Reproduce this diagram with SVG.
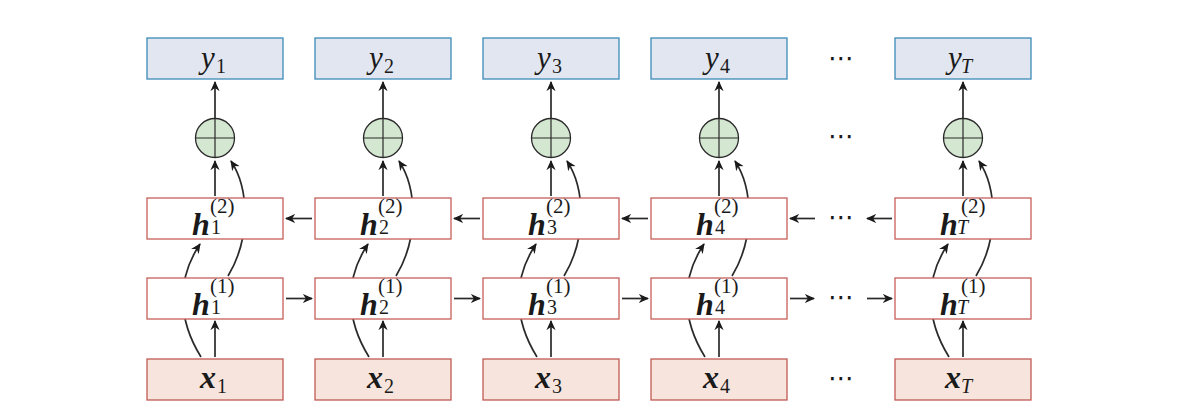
<svg xmlns="http://www.w3.org/2000/svg" width="1204" height="420" viewBox="0 0 1204 420">
<style>
.yb{fill:#e1e6f0;stroke:#3c8ab5;stroke-width:1.3}
.hb{fill:#ffffff;stroke:#c65f5a;stroke-width:1.3}
.xb{fill:#f7e5dd;stroke:#c05a54;stroke-width:1.3}
.sum{fill:#d4e7d0;stroke:#2a2a2a;stroke-width:1.3}
.cr{stroke:#2a2a2a;stroke-width:1.2}
.c{fill:none;stroke:#2a2a2a;stroke-width:1.7;marker-end:url(#ah)}
.m{font-family:"Liberation Serif","DejaVu Serif",serif;fill:#1a1a1a}
.big{font-size:31px;font-style:italic}
.bb{font-size:32px;font-style:italic;font-weight:bold}
.sub{font-size:20px}
.subi{font-size:20px;font-style:italic}
.sup{font-size:21px}
.dots{font-family:"DejaVu Sans",sans-serif;font-size:26px;fill:#1a1a1a}
</style>
<defs>
<marker id="ah" viewBox="0 0 10 10" refX="9" refY="5" markerWidth="6" markerHeight="6" orient="auto" markerUnits="strokeWidth">
<path d="M0,0.5 L10,5 L0,9.5 L3,5 z" fill="#1a1a1a"/>
</marker>
</defs>

<g id="connectors">
<path class="c" d="M215,118 L215,82"/>
<path class="c" d="M215,196 L215,161"/>
<path class="c" d="M215,357 L215,321"/>
<path class="c" d="M228,276 C250,240 250,190 231,161"/>
<path class="c" d="M201,357 C178,320 176,280 200,244"/>
<path class="c" d="M383,118 L383,82"/>
<path class="c" d="M383,196 L383,161"/>
<path class="c" d="M383,357 L383,321"/>
<path class="c" d="M396,276 C418,240 418,190 399,161"/>
<path class="c" d="M369,357 C346,320 344,280 368,244"/>
<path class="c" d="M551,118 L551,82"/>
<path class="c" d="M551,196 L551,161"/>
<path class="c" d="M551,357 L551,321"/>
<path class="c" d="M564,276 C586,240 586,190 567,161"/>
<path class="c" d="M537,357 C514,320 512,280 536,244"/>
<path class="c" d="M719,118 L719,82"/>
<path class="c" d="M719,196 L719,161"/>
<path class="c" d="M719,357 L719,321"/>
<path class="c" d="M732,276 C754,240 754,190 735,161"/>
<path class="c" d="M705,357 C682,320 680,280 704,244"/>
<path class="c" d="M963,118 L963,82"/>
<path class="c" d="M963,196 L963,161"/>
<path class="c" d="M963,357 L963,321"/>
<path class="c" d="M976,276 C998,240 998,190 979,161"/>
<path class="c" d="M949,357 C926,320 924,280 948,244"/>
<path class="c" d="M286,298.5 L312,298.5"/>
<path class="c" d="M454,298.5 L480,298.5"/>
<path class="c" d="M622,298.5 L648,298.5"/>
<path class="c" d="M790,298.5 L814,298.5"/>
<path class="c" d="M867,298.5 L892,298.5"/>
<path class="c" d="M312,218.5 L286,218.5"/>
<path class="c" d="M480,218.5 L454,218.5"/>
<path class="c" d="M648,218.5 L622,218.5"/>
<path class="c" d="M815,218.5 L790,218.5"/>
<path class="c" d="M892,218.5 L867,218.5"/>
</g>

<g id="y1"><rect class="yb" x="147" y="38" width="136" height="41"/><text class="m" y="68"><tspan class="big" x="201">y</tspan><tspan class="sub" x="216" y="73">1</tspan></text></g>
<g id="s1"><circle class="sum" cx="215" cy="138" r="19.5"/><path class="cr" d="M195.5,138 H234.5 M215,118.5 V157.5"/></g>
<g id="h2_1"><rect class="hb" x="147" y="198" width="136" height="41"/><text class="m"><tspan class="bb" x="192" y="235">h</tspan><tspan class="sub" x="211" y="234">1</tspan><tspan class="sup" x="210" y="213">(2)</tspan></text></g>
<g id="h1_1"><rect class="hb" x="147" y="278" width="136" height="41"/><text class="m"><tspan class="bb" x="192" y="315">h</tspan><tspan class="sub" x="211" y="314">1</tspan><tspan class="sup" x="210" y="293">(1)</tspan></text></g>
<g id="x1"><rect class="xb" x="147" y="359" width="136" height="41"/><text class="m"><tspan class="bb" x="200" y="388">x</tspan><tspan class="sub" x="217" y="393">1</tspan></text></g>

<g id="y2"><rect class="yb" x="315" y="38" width="136" height="41"/><text class="m" y="68"><tspan class="big" x="369">y</tspan><tspan class="sub" x="384" y="73">2</tspan></text></g>
<g id="s2"><circle class="sum" cx="383" cy="138" r="19.5"/><path class="cr" d="M363.5,138 H402.5 M383,118.5 V157.5"/></g>
<g id="h2_2"><rect class="hb" x="315" y="198" width="136" height="41"/><text class="m"><tspan class="bb" x="360" y="235">h</tspan><tspan class="sub" x="379" y="234">2</tspan><tspan class="sup" x="378" y="213">(2)</tspan></text></g>
<g id="h1_2"><rect class="hb" x="315" y="278" width="136" height="41"/><text class="m"><tspan class="bb" x="360" y="315">h</tspan><tspan class="sub" x="379" y="314">2</tspan><tspan class="sup" x="378" y="293">(1)</tspan></text></g>
<g id="x2"><rect class="xb" x="315" y="359" width="136" height="41"/><text class="m"><tspan class="bb" x="367" y="388">x</tspan><tspan class="sub" x="384" y="393">2</tspan></text></g>

<g id="y3"><rect class="yb" x="483" y="38" width="136" height="41"/><text class="m" y="68"><tspan class="big" x="537">y</tspan><tspan class="sub" x="552" y="73">3</tspan></text></g>
<g id="s3"><circle class="sum" cx="551" cy="138" r="19.5"/><path class="cr" d="M531.5,138 H570.5 M551,118.5 V157.5"/></g>
<g id="h2_3"><rect class="hb" x="483" y="198" width="136" height="41"/><text class="m"><tspan class="bb" x="528" y="235">h</tspan><tspan class="sub" x="547" y="234">3</tspan><tspan class="sup" x="546" y="213">(2)</tspan></text></g>
<g id="h1_3"><rect class="hb" x="483" y="278" width="136" height="41"/><text class="m"><tspan class="bb" x="528" y="315">h</tspan><tspan class="sub" x="547" y="314">3</tspan><tspan class="sup" x="546" y="293">(1)</tspan></text></g>
<g id="x3"><rect class="xb" x="483" y="359" width="136" height="41"/><text class="m"><tspan class="bb" x="535" y="388">x</tspan><tspan class="sub" x="552" y="393">3</tspan></text></g>

<g id="y4"><rect class="yb" x="651" y="38" width="136" height="41"/><text class="m" y="68"><tspan class="big" x="705">y</tspan><tspan class="sub" x="720" y="73">4</tspan></text></g>
<g id="s4"><circle class="sum" cx="719" cy="138" r="19.5"/><path class="cr" d="M699.5,138 H738.5 M719,118.5 V157.5"/></g>
<g id="h2_4"><rect class="hb" x="651" y="198" width="136" height="41"/><text class="m"><tspan class="bb" x="696" y="235">h</tspan><tspan class="sub" x="715" y="234">4</tspan><tspan class="sup" x="714" y="213">(2)</tspan></text></g>
<g id="h1_4"><rect class="hb" x="651" y="278" width="136" height="41"/><text class="m"><tspan class="bb" x="696" y="315">h</tspan><tspan class="sub" x="715" y="314">4</tspan><tspan class="sup" x="714" y="293">(1)</tspan></text></g>
<g id="x4"><rect class="xb" x="651" y="359" width="136" height="41"/><text class="m"><tspan class="bb" x="703" y="388">x</tspan><tspan class="sub" x="720" y="393">4</tspan></text></g>

<g id="ellipses">
<text class="dots" x="841" y="67" text-anchor="middle">⋯</text>
<text class="dots" x="841" y="145" text-anchor="middle">⋯</text>
<text class="dots" x="841" y="225.5" text-anchor="middle">⋯</text>
<text class="dots" x="841" y="305.5" text-anchor="middle">⋯</text>
<text class="dots" x="841" y="387" text-anchor="middle">⋯</text>
</g>

<g id="yT"><rect class="yb" x="895" y="38" width="136" height="41"/><text class="m" y="68"><tspan class="big" x="948">y</tspan><tspan class="subi" x="961" y="73">T</tspan></text></g>
<g id="sT"><circle class="sum" cx="963" cy="138" r="19.5"/><path class="cr" d="M943.5,138 H982.5 M963,118.5 V157.5"/></g>
<g id="h2_T"><rect class="hb" x="895" y="198" width="136" height="41"/><text class="m"><tspan class="bb" x="940" y="235">h</tspan><tspan class="subi" x="957" y="234">T</tspan><tspan class="sup" x="961" y="213">(2)</tspan></text></g>
<g id="h1_T"><rect class="hb" x="895" y="278" width="136" height="41"/><text class="m"><tspan class="bb" x="940" y="315">h</tspan><tspan class="subi" x="957" y="314">T</tspan><tspan class="sup" x="961" y="293">(1)</tspan></text></g>
<g id="xT"><rect class="xb" x="895" y="359" width="136" height="41"/><text class="m"><tspan class="bb" x="945" y="388">x</tspan><tspan class="subi" x="961" y="393">T</tspan></text></g>
</svg>
